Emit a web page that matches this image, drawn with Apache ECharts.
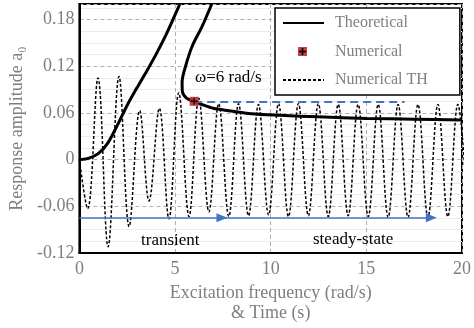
<!DOCTYPE html>
<html>
<head>
<meta charset="utf-8">
<script src="https://cdn.jsdelivr.net/npm/echarts@6/dist/echarts.min.js"></script>
<style>html,body{margin:0;padding:0;background:#fff}#c{width:474px;height:328px}</style>
</head>
<body>
<div id="c"></div>
<script>
// ---- data ----
const xTicks = [0, 5, 10, 15, 20];
const yTicks = [-0.12, -0.06, 0, 0.06, 0.12, 0.18];

// Theoretical frequency response (two branches)
const theoLeftX = [0, 0.5, 1.0, 1.5, 2.0, 2.5, 3.0, 3.5, 4.0, 4.5, 5.0, 5.25];
const theoLeftY = [0, 0.002, 0.008, 0.022, 0.045, 0.070, 0.092, 0.113, 0.135, 0.159, 0.186, 0.2];
const theoRightX = [6.92, 6.41, 5.9, 5.55, 5.37, 5.38, 5.6, 6.0, 6.5, 7.0, 7.8, 9.0, 10.5, 12.5, 15.0, 17.5, 20.0];
const theoRightY = [0.2, 0.171, 0.146, 0.12, 0.1, 0.088, 0.079, 0.075, 0.070, 0.066, 0.063, 0.059, 0.057, 0.055, 0.053, 0.052, 0.051];

// Numerical point
const numX = [6.0];
const numY = [0.075];

// Numerical time history: extrema
const thT = [0, 0.43, 0.97, 1.5, 2.07, 2.6, 3.15, 3.64, 4.18, 4.68, 5.19, 5.73, 6.24, 6.77, 7.28, 7.81, 8.32, 8.84, 9.36, 9.89, 10.41, 10.93, 11.45, 11.97, 12.49, 13.01, 13.53, 14.05, 14.57, 15.1, 15.62, 16.14, 16.66, 17.18, 17.7, 18.22, 18.74, 19.26, 19.78, 20.3];
const thA = [0, -0.063, 0.105, -0.112, 0.107, -0.086, 0.063, -0.053, 0.066, -0.076, 0.086, -0.073, 0.079, -0.067, 0.072, -0.073, 0.072, -0.072, 0.071, -0.071, 0.072, -0.073, 0.072, -0.072, 0.072, -0.073, 0.071, -0.072, 0.071, -0.073, 0.071, -0.074, 0.071, -0.074, 0.071, -0.074, 0.071, -0.073, 0.071, -0.073];

// Annotation lines
const dashLevel = 0.075;
const dashRange = [6, 17];
const arrowLevel = -0.0745;
const arrowStops = [0, 7.45, 18.4];

// ---- build ----
const zip = (a, b) => a.map((v, i) => [v, b[i]]);
const serif = '"Liberation Serif", "Times New Roman", serif';
const gray = '#7f7f7f';
const blue = '#4472c4';

const chart = echarts.init(document.getElementById('c'), null, {renderer: 'canvas'});
chart.setOption({
  animation: false,
  backgroundColor: '#fff',
  textStyle: {fontFamily: serif},
  grid: {left: 75, right: 9, top: 4, bottom: 72, show: true, borderColor: '#000', borderWidth: 2, backgroundColor: 'transparent'},
  xAxis: {
    type: 'value', min: xTicks[0], max: xTicks[xTicks.length - 1], interval: 5,
    name: 'Excitation frequency (rad/s)\n& Time (s)', nameLocation: 'middle', nameGap: 29,
    nameTextStyle: {fontFamily: serif, fontSize: 18, color: gray, lineHeight: 20},
    axisLine: {show: true, onZero: false, lineStyle: {color: '#000', width: 2}},
    axisTick: {show: false},
    axisLabel: {fontFamily: serif, fontSize: 18, color: gray, margin: 7,
      formatter: v => xTicks.includes(v) ? String(v) : ''},
    splitLine: {show: true, lineStyle: {color: '#b0b0b0', type: [4, 3], width: 1}}
  },
  yAxis: {
    type: 'value', min: yTicks[0], max: 0.2, interval: 0.06,
    name: 'Response amplitude a₀', nameLocation: 'middle', nameGap: 53,
    nameTextStyle: {fontFamily: serif, fontSize: 18, color: gray},
    axisLine: {show: true, onZero: false, lineStyle: {color: '#000', width: 2}},
    axisTick: {show: false},
    axisLabel: {fontFamily: serif, fontSize: 18, color: gray, margin: 5, showMaxLabel: false,
      formatter: v => {
        const t = yTicks.find(y => Math.abs(y - v) < 1e-6);
        return t === undefined ? '' : (t === 0 ? '0' : String(t));
      }},
    splitLine: {show: true, lineStyle: {color: '#b0b0b0', type: [4, 3], width: 1}},
    minorTick: {show: false, splitNumber: 4},
    minorSplitLine: {show: true, lineStyle: {color: '#ebebeb', width: 1}}
  },
  legend: {
    orient: 'vertical', left: 275, top: 8,
    padding: [7, 32, 7, 7], itemGap: 12.5, itemWidth: 41, itemHeight: 9,
    backgroundColor: '#fff', borderColor: '#000', borderWidth: 1.5, borderRadius: 0,
    textStyle: {fontFamily: serif, fontSize: 16, color: gray, lineHeight: 16, padding: [0, 0, 0, 6]},
    data: [
      {name: 'Theoretical', itemStyle: {opacity: 0}},
      {name: 'Numerical', itemStyle: {opacity: 0}},
      {name: 'Numerical TH', itemStyle: {opacity: 0}}
    ],
    selectedMode: false
  },
  graphic: [
    {type: 'text', left: 195, top: 69, z: 50, style: {text: 'ω=6 rad/s', font: '17px "Liberation Serif"', fill: '#000'}},
    {type: 'text', left: 141, top: 232, z: 50, style: {text: 'transient', font: '17px "Liberation Serif"', fill: '#000'}},
    {type: 'text', left: 313, top: 231, z: 50, style: {text: 'steady-state', font: '17px "Liberation Serif"', fill: '#000'}},
    {type: 'group', left: 298, top: 47, z: 100, children: [
      {type: 'rect', z: 100, shape: {x: 0, y: 0, width: 9, height: 9}, style: {fill: '#c0282d', opacity: 0.9}},
      {type: 'rect', z: 101, shape: {x: 3.7, y: 1, width: 1.6, height: 7}, style: {fill: '#000'}},
      {type: 'rect', z: 101, shape: {x: 1, y: 3.7, width: 7, height: 1.6}, style: {fill: '#000'}}
    ]}
  ],
  series: [
    {
      name: 'Numerical TH', type: 'line', data: zip(thT, thA), smooth: 0.38,
      showSymbol: false, symbol: 'none', clip: true, z: 2,
      lineStyle: {color: '#000', width: 1.5, type: [3, 2]}, itemStyle: {color: '#000'},
      markLine: {
        silent: true, symbol: ['none', 'none'], label: {show: false},
        lineStyle: {color: blue, width: 2, type: [8, 5]},
        data: [[{coord: [dashRange[0], dashLevel]}, {coord: [dashRange[1], dashLevel]}]]
      }
    },
    {
      name: 'Theoretical', type: 'line', data: zip(theoLeftX, theoLeftY), smooth: 0.3,
      showSymbol: false, symbol: 'none', clip: true, z: 3,
      lineStyle: {color: '#000', width: 3}, itemStyle: {color: '#000'}
    },
    {
      name: 'Theoretical', type: 'line', data: zip(theoRightX, theoRightY), smooth: 0.3,
      showSymbol: false, symbol: 'none', clip: true, z: 3,
      lineStyle: {color: '#000', width: 3}, itemStyle: {color: '#000'},
      markLine: {
        silent: true, symbol: ['none', 'triangle'], symbolSize: [9, 11], label: {show: false},
        lineStyle: {color: blue, width: 1.5, type: 'solid'},
        data: [
          [{coord: [arrowStops[0], arrowLevel]}, {coord: [arrowStops[1], arrowLevel]}],
          [{coord: [arrowStops[1], arrowLevel]}, {coord: [arrowStops[2], arrowLevel]}]
        ]
      }
    },
    {
      name: 'Numerical', type: 'scatter', data: zip(numX, numY), symbol: 'rect', symbolSize: 9, z: 5,
      itemStyle: {color: '#c0282d', opacity: 0.9}
    },
    {
      name: 'NumPlus', type: 'scatter', data: zip(numX, numY), symbolSize: 7, z: 6,
      symbol: 'path://M4,0H6V10H4Z M0,4H10V6H0Z', itemStyle: {color: '#000'}
    }
  ]
});
</script>
</body>
</html>
